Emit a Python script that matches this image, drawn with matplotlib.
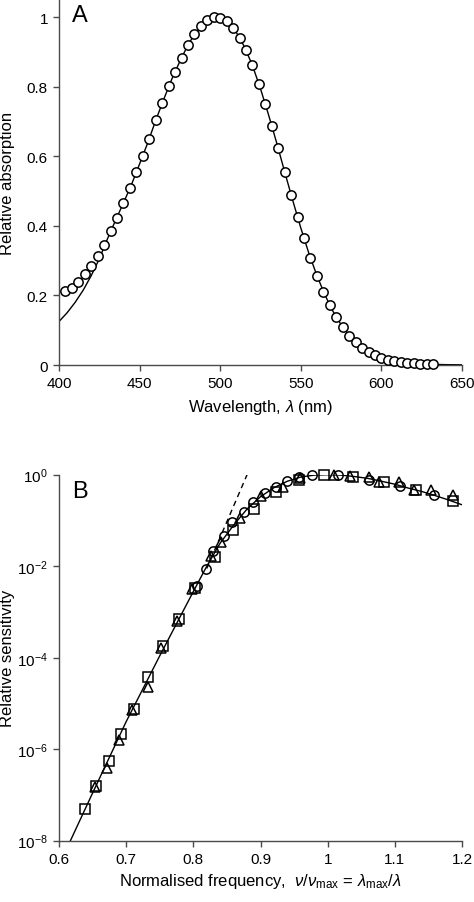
import math

import matplotlib
matplotlib.use("Agg")
import matplotlib.pyplot as plt
from matplotlib.ticker import FixedLocator, FuncFormatter, NullLocator

plt.rcParams['font.family'] = ['Liberation Sans', 'DejaVu Sans']
plt.rcParams['mathtext.fontset'] = 'custom'
plt.rcParams['mathtext.rm'] = 'Liberation Sans'
plt.rcParams['mathtext.it'] = 'Liberation Sans:italic'
plt.rcParams['font.size'] = 11

# Panel A: measured absorption (circles) and template fit (line)
abs_wl = [404, 408, 412, 416, 420, 424, 428, 432, 436, 440, 444, 448, 452, 456,
          460, 464, 468, 472, 476, 480, 484, 488, 492, 496, 500, 504, 508, 512,
          516, 520, 524, 528, 532, 536, 540, 544, 548, 552, 556, 560, 564, 568,
          572, 576, 580, 584, 588, 592, 596, 600, 604, 608, 612, 616, 620, 624,
          628, 632]
abs_val = [0.212, 0.222, 0.239, 0.261, 0.285, 0.314, 0.346, 0.384, 0.422, 0.466,
           0.508, 0.556, 0.602, 0.651, 0.703, 0.752, 0.801, 0.843, 0.883, 0.920,
           0.951, 0.975, 0.991, 1.000, 0.997, 0.988, 0.969, 0.941, 0.906, 0.861,
           0.808, 0.749, 0.688, 0.623, 0.555, 0.490, 0.424, 0.364, 0.307, 0.257,
           0.211, 0.172, 0.137, 0.108, 0.084, 0.065, 0.050, 0.037, 0.028, 0.021,
           0.015, 0.011, 0.009, 0.007, 0.005, 0.004, 0.003, 0.002]

fit_wl = [400, 405, 410, 415, 420, 425, 430, 435, 440, 445, 450, 455, 460, 465,
          470, 475, 480, 485, 490, 495, 500, 505, 510, 515, 520, 525, 530, 535,
          540, 545, 550, 555, 560, 565, 570, 575, 580, 585, 590, 595, 600, 605,
          610, 615, 620, 625, 630, 640, 650]
fit_val = [0.125, 0.150, 0.180, 0.215, 0.257, 0.305, 0.362, 0.415, 0.466, 0.519,
           0.578, 0.638, 0.703, 0.764, 0.822, 0.873, 0.920, 0.957, 0.984, 0.998,
           0.997, 0.984, 0.956, 0.915, 0.861, 0.794, 0.719, 0.639, 0.555, 0.473,
           0.394, 0.321, 0.257, 0.201, 0.154, 0.116, 0.085, 0.062, 0.044, 0.030,
           0.021, 0.014, 0.010, 0.007, 0.005, 0.003, 0.002, 0.001, 0.0005]

# Panel B: sensitivity vs normalised frequency, three data sets
sq_x = [0.639, 0.655, 0.674, 0.692, 0.712, 0.733, 0.755, 0.778, 0.803, 0.832,
        0.859, 0.890, 0.923, 0.957, 0.995, 1.037, 1.084, 1.131, 1.186]
sq_y = [4.9e-8, 1.6e-7, 5.5e-7, 2.1e-6, 7.6e-6, 3.8e-5, 1.8e-4, 7.1e-4, 3.3e-3,
        1.6e-2, 6.3e-2, 0.178, 0.41, 0.78, 0.97, 0.91, 0.71, 0.46, 0.26]

tri_x = [0.653, 0.671, 0.690, 0.709, 0.733, 0.752, 0.776, 0.798, 0.827, 0.841,
         0.869, 0.901, 0.934, 0.959, 1.010, 1.033, 1.061, 1.077, 1.106, 1.129,
         1.154, 1.186]
tri_y = [1.5e-7, 3.8e-7, 1.55e-6, 7.2e-6, 2.3e-5, 1.6e-4, 6.2e-4, 3.1e-3, 1.7e-2,
         3.3e-2, 0.112, 0.34, 0.55, 0.85, 0.98, 0.95, 0.91, 0.71, 0.68, 0.47,
         0.46, 0.36]

circ_x = [0.805, 0.819, 0.830, 0.845, 0.857, 0.876, 0.889, 0.906, 0.923, 0.940,
          0.957, 0.976, 1.016, 1.061, 1.108, 1.158]
circ_y = [3.7e-3, 8.7e-3, 2.2e-2, 4.5e-2, 9.1e-2, 0.151, 0.257, 0.40, 0.55, 0.74,
          0.87, 0.98, 0.98, 0.78, 0.58, 0.36]

line_x = [0.617, 0.65, 0.70, 0.75, 0.80, 0.82, 0.84, 0.86, 0.88, 0.90, 0.92, 0.94,
          0.96, 0.98, 1.00, 1.02, 1.04, 1.06, 1.08, 1.10, 1.12, 1.14, 1.16, 1.18, 1.20]
line_y = [1.0e-8, 1.1e-7, 4.0e-6, 1.1e-4, 2.8e-3, 1.0e-2, 3.2e-2, 7.9e-2, 0.178,
          0.33, 0.52, 0.72, 0.89, 0.98, 1.0, 0.98, 0.91, 0.83, 0.72, 0.62, 0.51,
          0.43, 0.35, 0.28, 0.22]

asym_x = [0.820, 0.880]
asym_y = [8.9e-3, 1.0]

AXIS_GREY = '#4a4a4a'


def style_axes(ax):
    ax.spines['top'].set_visible(False)
    ax.spines['right'].set_visible(False)
    for s in ('left', 'bottom'):
        ax.spines[s].set_linewidth(1.0)
        ax.spines[s].set_color(AXIS_GREY)
    ax.tick_params(direction='out', length=4, width=1.0, color=AXIS_GREY,
                   labelsize=11, pad=4)
    # y label sits near the left edge of the figure, as in the reference
    ax.yaxis.set_label_coords(-0.110, 0.5)


fig = plt.figure(figsize=(4.74, 9.03), dpi=100)

# ---- panel A
axA = fig.add_axes([59 / 474, 1 - 366 / 903, 403 / 474, 366 / 903])
axA.plot(fit_wl, fit_val, color='black', lw=1.0, zorder=2)
axA.plot(abs_wl, abs_val, linestyle='none', marker='o', ms=6.7, mfc='white',
         mec='black', mew=1.1, clip_on=False, zorder=3)
axA.set_xlim(400, 650)
axA.set_ylim(0, 1.052)
axA.set_xticks([400, 450, 500, 550, 600, 650])
axA.set_yticks([0, 0.2, 0.4, 0.6, 0.8, 1.0])
axA.set_yticklabels(['0', '0.2', '0.4', '0.6', '0.8', '1'])
axA.set_xlabel(r'Wavelength, $\lambda$ (nm)', fontsize=12, labelpad=5)
axA.set_ylabel('Relative absorption', fontsize=12)
style_axes(axA)
axA.text(0.033, 0.985, 'A', transform=axA.transAxes, fontsize=17,
         va='top', ha='left')

# ---- panel B
axB = fig.add_axes([59 / 474, 1 - 841.7 / 903, 403 / 474, 366 / 903])
axB.set_yscale('log')
axB.plot(line_x, line_y, color='black', lw=1.0, zorder=2)
axB.plot(asym_x, asym_y, color='black', lw=1.0, linestyle=(0, (4, 3)), zorder=2)
mk = dict(linestyle='none', ms=6.7, mfc='none', mec='black', mew=1.1,
          clip_on=False, zorder=3)
axB.plot(sq_x, sq_y, marker='s', **mk)
axB.plot(tri_x, tri_y, marker='^', **mk)
axB.plot(circ_x, circ_y, marker='o', **mk)
axB.set_xlim(0.6, 1.2)
axB.set_ylim(1e-8, 1)
axB.set_xticks([0.6, 0.7, 0.8, 0.9, 1.0, 1.1, 1.2])
axB.set_xticklabels(['0.6', '0.7', '0.8', '0.9', '1', '1.1', '1.2'])
axB.yaxis.set_major_locator(FixedLocator([1e-8, 1e-6, 1e-4, 1e-2, 1]))
axB.yaxis.set_minor_locator(NullLocator())
axB.yaxis.set_major_formatter(FuncFormatter(
    lambda v, p: r'10$^{%d}$' % round(math.log10(v))))
axB.set_xlabel(r'Normalised frequency,  $\nu/\nu_{\rm max}$ = $\lambda_{\rm max}/\lambda$',
               fontsize=12, labelpad=4)
axB.set_ylabel('Relative sensitivity', fontsize=12)
style_axes(axB)
axB.text(0.033, 0.985, 'B', transform=axB.transAxes, fontsize=17,
         va='top', ha='left')

fig.savefig('out.png', dpi=100)
